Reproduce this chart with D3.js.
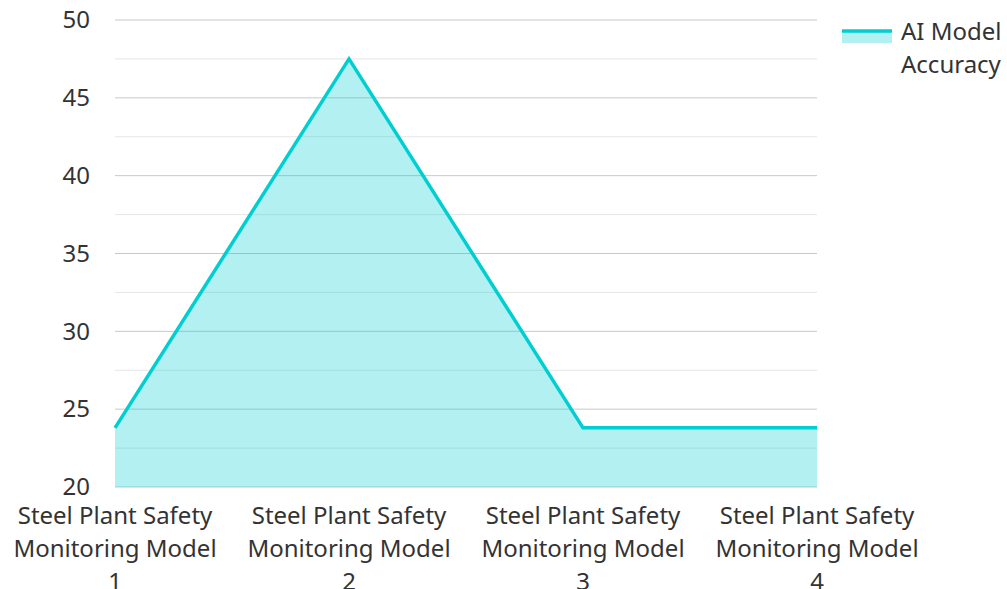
<!DOCTYPE html>
<html>
<head>
<meta charset="utf-8">
<script src="https://cdn.jsdelivr.net/npm/d3@7"></script>
<style>
  html, body { margin: 0; padding: 0; background: #fff; overflow: hidden; }
  svg text { font-family: "Noto Sans", "Open Sans", sans-serif; fill: #333; }
</style>
</head>
<body>
<svg id="chart" width="1007" height="589"></svg>
<script>
// AI model accuracy across steel plant safety monitoring models
const categories = [
  "Steel Plant Safety Monitoring Model 1",
  "Steel Plant Safety Monitoring Model 2",
  "Steel Plant Safety Monitoring Model 3",
  "Steel Plant Safety Monitoring Model 4"
];
const accuracy = [23.8, 47.5, 23.8, 23.8];
const yTicks = [20, 25, 30, 35, 40, 45, 50];
const yMinorTicks = [22.5, 27.5, 32.5, 37.5, 42.5, 47.5];
const seriesName = ["AI Model", "Accuracy"];

const lineColor = "#00CED1";
const areaColor = "rgba(0, 206, 209, 0.3)";

const svg = d3.select("#chart");
const margin = { left: 115, right: 190, top: 20, bottom: 102 };
const W = 1007, H = 589;

const x = d3.scalePoint()
  .domain(categories)
  .range([margin.left, W - margin.right]);

const y = d3.scaleLinear()
  .domain([20, 50])
  .range([H - margin.bottom, margin.top]);

// minor grid
svg.append("g")
  .selectAll("line")
  .data(yMinorTicks)
  .join("line")
  .attr("x1", margin.left).attr("x2", W - margin.right)
  .attr("y1", d => y(d)).attr("y2", d => y(d))
  .attr("stroke", "#e6e6e6").attr("stroke-width", 1);

// major grid
svg.append("g")
  .selectAll("line")
  .data(yTicks)
  .join("line")
  .attr("x1", margin.left).attr("x2", W - margin.right)
  .attr("y1", d => y(d)).attr("y2", d => y(d))
  .attr("stroke", "#c8c8c8").attr("stroke-width", 1);

// y axis labels
const yAxis = d3.axisLeft(y).tickValues(yTicks).tickSize(0).tickPadding(25);
svg.append("g")
  .attr("transform", `translate(${margin.left},0)`)
  .call(yAxis)
  .call(g => g.select(".domain").remove())
  .call(g => g.selectAll("text")
    .style("font-size", "24px")
    .attr("fill", "#333"));

// area + line
const area = d3.area()
  .x((d, i) => x(categories[i]))
  .y0(y(20))
  .y1(d => y(d));

const line = d3.line()
  .x((d, i) => x(categories[i]))
  .y(d => y(d));

svg.append("path")
  .datum(accuracy)
  .attr("d", area)
  .attr("fill", areaColor);

svg.append("path")
  .datum(accuracy)
  .attr("d", line)
  .attr("fill", "none")
  .attr("stroke", lineColor)
  .attr("stroke-width", 3.5)
  .attr("stroke-linejoin", "miter");

// x axis labels (wrapped onto three lines)
const xLabels = svg.append("g");
categories.forEach(c => {
  const words = c.split(" ");
  const lines = [words.slice(0, 3).join(" "), words.slice(3, 5).join(" "), words.slice(5).join(" ")];
  const t = xLabels.append("text")
    .attr("text-anchor", "middle")
    .style("font-size", "24px")
    .attr("x", x(c))
    .attr("y", 524);
  lines.forEach((l, i) => {
    t.append("tspan")
      .attr("x", x(c))
      .attr("dy", i === 0 ? 0 : 33)
      .text(l);
  });
});

// legend
const lg = svg.append("g").attr("transform", "translate(842,31)");
lg.append("rect")
  .attr("x", 0).attr("y", 0).attr("width", 50).attr("height", 12)
  .attr("fill", areaColor);
lg.append("line")
  .attr("x1", 0).attr("x2", 50).attr("y1", 0).attr("y2", 0)
  .attr("stroke", lineColor).attr("stroke-width", 3.5);
const lt = lg.append("text")
  .attr("x", 59).attr("y", 8.5)
  .style("font-size", "24px");
seriesName.forEach((s, i) => {
  lt.append("tspan").attr("x", 59).attr("dy", i === 0 ? 0 : 33).text(s);
});
</script>
</body>
</html>
